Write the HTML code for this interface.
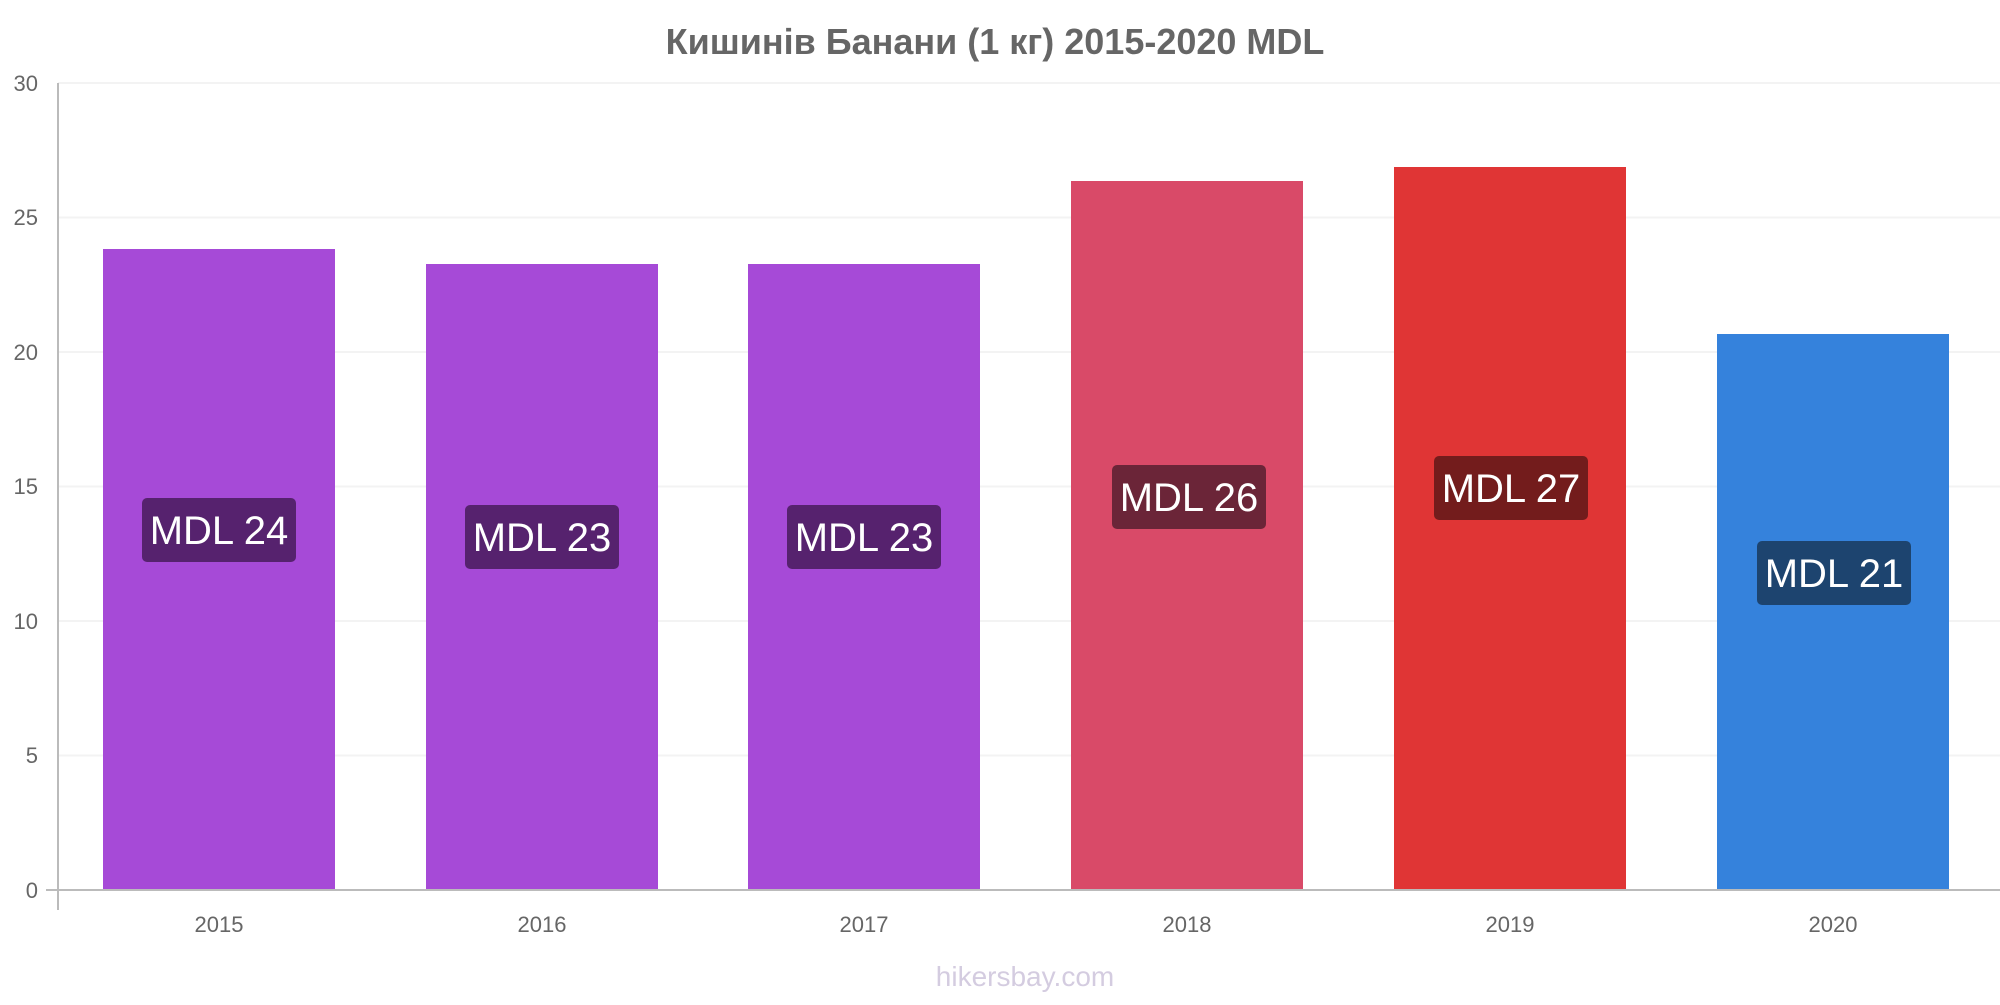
<!DOCTYPE html>
<html><head><meta charset="utf-8"><style>html,body{margin:0;padding:0;background:#fff}</style></head>
<body>
<svg width="2000" height="1000" xmlns="http://www.w3.org/2000/svg" font-family="Liberation Sans, Arial, sans-serif">
<rect width="2000" height="1000" fill="#fff"/>
<text x="995" y="54" text-anchor="middle" font-size="36" font-weight="bold" fill="#666">Кишинів Банани (1 кг) 2015-2020 MDL</text>
<g stroke="#f3f3f3" stroke-width="2">
<line x1="58" y1="83" x2="2000" y2="83"/><line x1="58" y1="217.5" x2="2000" y2="217.5"/>
<line x1="58" y1="352" x2="2000" y2="352"/><line x1="58" y1="486.5" x2="2000" y2="486.5"/>
<line x1="58" y1="621" x2="2000" y2="621"/><line x1="58" y1="755.5" x2="2000" y2="755.5"/>
</g>
<g font-size="22" fill="#666" text-anchor="end">
<text x="38" y="91">30</text><text x="38" y="225">25</text><text x="38" y="360">20</text>
<text x="38" y="494">15</text><text x="38" y="629">10</text><text x="38" y="763">5</text><text x="38" y="898">0</text>
</g>
<g>
<rect x="103" y="249" width="232" height="641" fill="#a64ad7"/>
<rect x="426" y="264" width="232" height="626" fill="#a64ad7"/>
<rect x="748" y="264" width="232" height="626" fill="#a64ad7"/>
<rect x="1071" y="181" width="232" height="709" fill="#d94a68"/>
<rect x="1394" y="167" width="232" height="723" fill="#e03535"/>
<rect x="1717" y="334" width="232" height="556" fill="#3582dc"/>
</g>
<line x1="58" y1="83" x2="58" y2="910" stroke="#bbb" stroke-width="2"/>
<line x1="46" y1="890" x2="2000" y2="890" stroke="#bbb" stroke-width="2"/>
<g font-size="40" fill="#fff" text-anchor="middle">
<rect x="142" y="498" width="154" height="64" rx="5" fill="#56226e"/><text x="219" y="544">MDL 24</text>
<rect x="465" y="505" width="154" height="64" rx="5" fill="#56226e"/><text x="542" y="551">MDL 23</text>
<rect x="787" y="505" width="154" height="64" rx="5" fill="#56226e"/><text x="864" y="551">MDL 23</text>
<rect x="1112" y="465" width="154" height="64" rx="5" fill="#6b2538"/><text x="1189" y="511">MDL 26</text>
<rect x="1434" y="456" width="154" height="64" rx="5" fill="#731c1c"/><text x="1511" y="502">MDL 27</text>
<rect x="1757" y="541" width="154" height="64" rx="5" fill="#1d446f"/><text x="1834" y="587">MDL 21</text>
</g>
<g font-size="22" fill="#666" text-anchor="middle">
<text x="219" y="932">2015</text><text x="542" y="932">2016</text><text x="864" y="932">2017</text>
<text x="1187" y="932">2018</text><text x="1510" y="932">2019</text><text x="1833" y="932">2020</text>
</g>
<text x="1025" y="986" text-anchor="middle" font-size="28" fill="#d4cce0">hikersbay.com</text>
</svg>
</body></html>
